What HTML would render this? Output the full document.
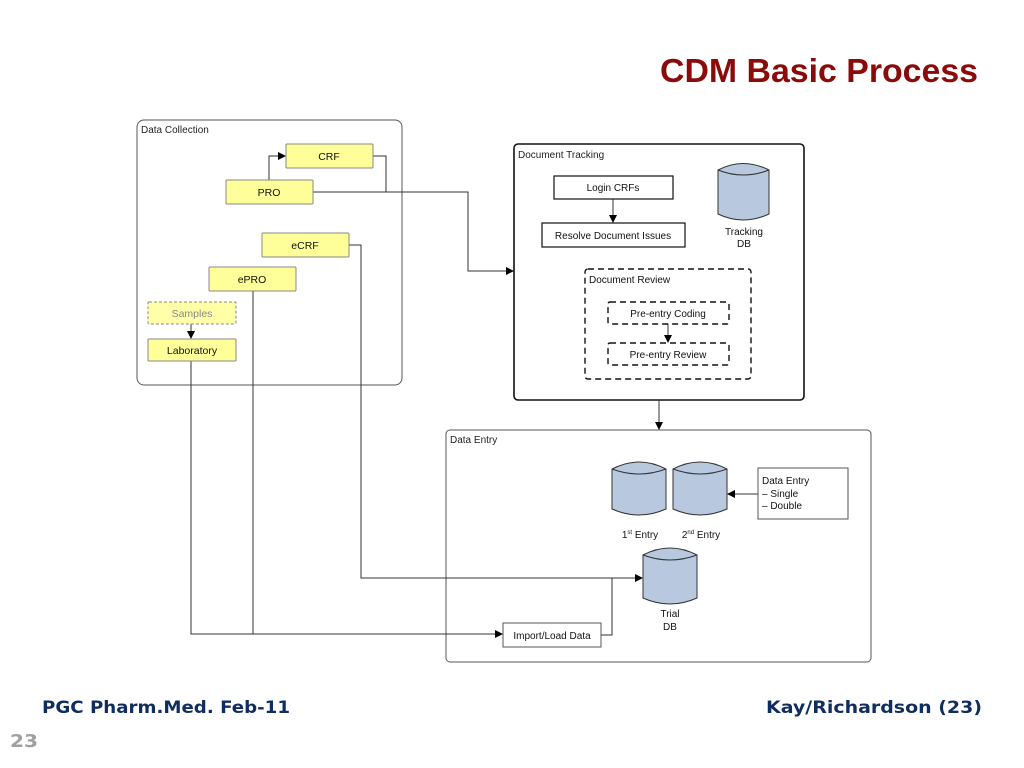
<!DOCTYPE html>
<html><head><meta charset="utf-8"><style>
html,body{margin:0;padding:0;background:#fff}
svg{display:block}
text{font-family:"Liberation Sans",Arial,sans-serif}
.v{font-family:"DejaVu Sans","Liberation Sans",sans-serif}
</style></head><body>
<svg width="1024" height="768" viewBox="0 0 1024 768" xmlns="http://www.w3.org/2000/svg" xml:space="preserve">
<defs>
<marker id="a" markerWidth="8" markerHeight="8" refX="7" refY="4" orient="auto" markerUnits="userSpaceOnUse"><path d="M0,0 L8,4 L0,8 z" fill="#000"/></marker>
</defs>
<text x="660" y="82" font-size="33" font-weight="bold" fill="#8B0A0A" textLength="318" lengthAdjust="spacingAndGlyphs">CDM Basic Process</text>

<rect x="137" y="120" width="265" height="265" rx="7" fill="none" stroke="#555" stroke-width="1"/>
<text x="141" y="133" font-size="10" fill="#222">Data Collection</text>

<rect x="514" y="144" width="290" height="256" rx="4" fill="#fff" stroke="#111" stroke-width="1.6"/>
<text x="518" y="158" font-size="10" fill="#222">Document Tracking</text>

<rect x="446" y="430" width="425" height="232" rx="4" fill="#fff" stroke="#555" stroke-width="1"/>
<text x="450" y="443" font-size="10" fill="#222">Data Entry</text>

<g fill="none" stroke="#333" stroke-width="1">
<polyline points="269,180 269,156 285,156" marker-end="url(#a)"/>
<polyline points="373,156 386,156 386,192"/>
<polyline points="313,192 468,192 468,271 513,271" marker-end="url(#a)"/>
<polyline points="349,245 361,245 361,578 642,578" marker-end="url(#a)"/>
<polyline points="253,291 253,634"/>
<line x1="191" y1="324" x2="191" y2="338" marker-end="url(#a)"/>
<polyline points="191,361 191,634 502,634" marker-end="url(#a)"/>
<polyline points="601,635 612,635 612,578"/>
<line x1="613" y1="199" x2="613" y2="222" marker-end="url(#a)"/>
<line x1="668" y1="324" x2="668" y2="342" marker-end="url(#a)"/>
<line x1="659" y1="400" x2="659" y2="429" marker-end="url(#a)"/>
<line x1="758" y1="494" x2="728" y2="494" marker-end="url(#a)"/>
</g>

<g stroke="#888" stroke-width="1" fill="#FFFF99">
<rect x="286" y="144" width="87" height="24" rx="1"/>
<rect x="226" y="180" width="87" height="24" rx="1"/>
<rect x="262" y="233" width="87" height="24" rx="1"/>
<rect x="209" y="267" width="87" height="24" rx="1"/>
<rect x="148" y="302" width="88" height="22" rx="1" stroke-dasharray="3,2" fill="#FFFFA8"/>
<rect x="148" y="339" width="88" height="22" rx="1"/>
</g>
<g font-size="10.5" text-anchor="middle" fill="#111">
<text x="329" y="160">CRF</text>
<text x="269" y="196">PRO</text>
<text x="305" y="249">eCRF</text>
<text x="252" y="283">ePRO</text>
<text x="192" y="317" fill="#888">Samples</text>
<text x="192" y="354">Laboratory</text>
</g>

<g fill="#fff" stroke="#111" stroke-width="1.2">
<rect x="554" y="176" width="119" height="23"/>
<rect x="542" y="223" width="143" height="24"/>
</g>
<rect x="585" y="269" width="166" height="110" rx="3" fill="none" stroke="#111" stroke-width="1.4" stroke-dasharray="6,4"/>
<rect x="608" y="302" width="121" height="22" rx="2" fill="none" stroke="#111" stroke-width="1.4" stroke-dasharray="6,4"/>
<rect x="608" y="343" width="121" height="22" rx="2" fill="none" stroke="#111" stroke-width="1.4" stroke-dasharray="6,4"/>
<g font-size="10" text-anchor="middle" fill="#111">
<text x="613" y="191">Login CRFs</text>
<text x="613" y="239">Resolve  Document Issues</text>
<text x="668" y="317">Pre-entry Coding</text>
<text x="668" y="358">Pre-entry Review</text>
<text x="744" y="235">Tracking</text>
<text x="744" y="247">DB</text>
</g>
<text x="589" y="283" font-size="10" fill="#111">Document Review</text>

<g fill="#B8C8DE" stroke="#333" stroke-width="1">
<path d="M718,170 Q743,157 769,170 L769,214 Q743,226 718,214 Z"/>
<path d="M718,170 Q743,180 769,170" fill="none"/>
<path d="M612,469 Q639,455 666,469 L666,509 Q639,521 612,509 Z"/>
<path d="M612,469 Q639,479 666,469" fill="none"/>
<path d="M673,469 Q700,455 727,469 L727,509 Q700,521 673,509 Z"/>
<path d="M673,469 Q700,479 727,469" fill="none"/>
<path d="M643,555 Q670,541 697,555 L697,598 Q670,610 643,598 Z"/>
<path d="M643,555 Q670,565 697,555" fill="none"/>
</g>
<g font-size="10" fill="#111" text-anchor="middle">
<text x="640" y="538">1<tspan font-size="6" dy="-4">st</tspan><tspan dy="4"> Entry</tspan></text>
<text x="701" y="538">2<tspan font-size="6" dy="-4">nd</tspan><tspan dy="4"> Entry</tspan></text>
<text x="670" y="617">Trial</text>
<text x="670" y="630">DB</text>
</g>
<rect x="758" y="468" width="90" height="51" fill="#fff" stroke="#555" stroke-width="1"/>
<g font-size="10" fill="#111">
<text x="762" y="484">Data Entry</text>
<text x="762" y="497">– Single</text>
<text x="762" y="509">– Double</text>
</g>
<rect x="503" y="623" width="98" height="24" fill="#fff" stroke="#555" stroke-width="1"/>
<text x="552" y="639" font-size="10" text-anchor="middle" fill="#111">Import/Load Data</text>

<text class="v" x="42" y="713" font-size="17" font-weight="bold" fill="#0F2D5E" textLength="248" lengthAdjust="spacingAndGlyphs">PGC Pharm.Med.  Feb-11</text>
<text class="v" x="766" y="713" font-size="17" font-weight="bold" fill="#0F2D5E" textLength="216" lengthAdjust="spacingAndGlyphs">Kay/Richardson  (23)</text>
<text class="v" x="10" y="747" font-size="18" font-weight="bold" fill="#A0A0A0" textLength="28" lengthAdjust="spacingAndGlyphs">23</text>
</svg>
</body></html>
